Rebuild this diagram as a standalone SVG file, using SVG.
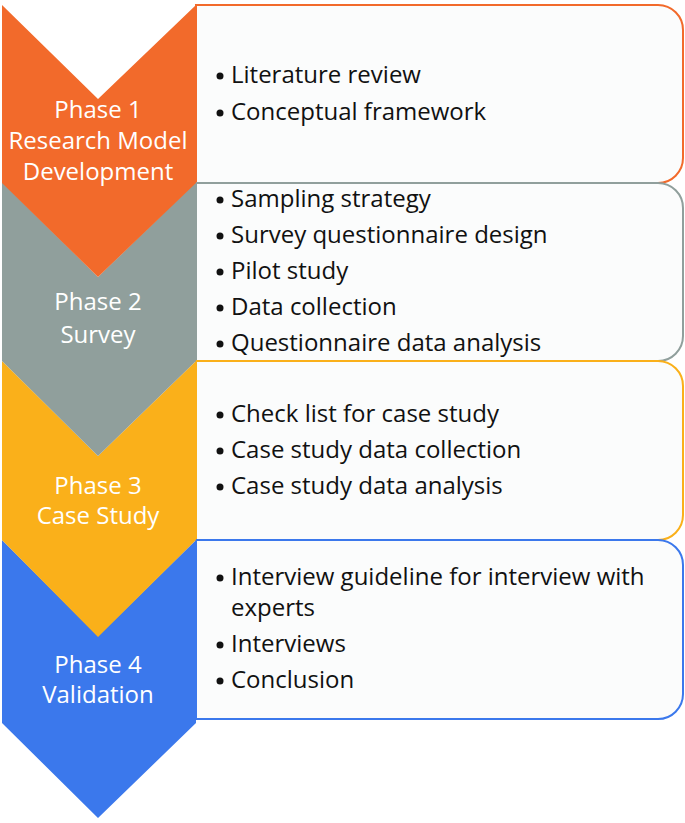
<svg xmlns="http://www.w3.org/2000/svg" width="685" height="823" viewBox="0 0 685 823">
<style>
.box{fill:#FBFCFC;stroke-width:2}
.lab{font-family:"Open Sans","Noto Sans",sans-serif;font-size:24px;fill:#FFFFFF;text-anchor:middle}
.item{font-family:"Open Sans","Noto Sans",sans-serif;font-size:24px;fill:#111111}
.bul{fill:#111111}
</style>
<rect width="685" height="823" fill="#FFFFFF"/>
<g id="box1">
<path class="box" stroke="#F26A2B" d="M196 5 H658 A25 25 0 0 1 683 30 V158 A25 25 0 0 1 658 183 H196 Z"/>
<circle class="bul" cx="220" cy="76" r="3.5"/><text class="item" x="231" y="83">Literature review</text>
<circle class="bul" cx="220" cy="113" r="3.5"/><text class="item" x="231" y="120">Conceptual framework</text>
</g>
<g id="box2">
<path class="box" stroke="#909F9C" d="M196 183 H658 A25 25 0 0 1 683 208 V336 A25 25 0 0 1 658 361 H196 Z"/>
<circle class="bul" cx="220" cy="200" r="3.5"/><text class="item" x="231" y="207">Sampling strategy</text>
<circle class="bul" cx="220" cy="236" r="3.5"/><text class="item" x="231" y="243">Survey questionnaire design</text>
<circle class="bul" cx="220" cy="272" r="3.5"/><text class="item" x="231" y="279">Pilot study</text>
<circle class="bul" cx="220" cy="308" r="3.5"/><text class="item" x="231" y="315">Data collection</text>
<circle class="bul" cx="220" cy="344" r="3.5"/><text class="item" x="231" y="351">Questionnaire data analysis</text>
</g>
<g id="box3">
<path class="box" stroke="#FAB01A" d="M196 361 H658 A25 25 0 0 1 683 386 V515 A25 25 0 0 1 658 540 H196 Z"/>
<circle class="bul" cx="220" cy="415" r="3.5"/><text class="item" x="231" y="422">Check list for case study</text>
<circle class="bul" cx="220" cy="451" r="3.5"/><text class="item" x="231" y="458">Case study data collection</text>
<circle class="bul" cx="220" cy="487" r="3.5"/><text class="item" x="231" y="494">Case study data analysis</text>
</g>
<g id="box4">
<path class="box" stroke="#3B78EC" d="M196 540 H658 A25 25 0 0 1 683 565 V694 A25 25 0 0 1 658 719 H196 Z"/>
<circle class="bul" cx="220" cy="578" r="3.5"/><text class="item" x="231" y="585">Interview guideline for interview with</text>
<text class="item" x="231" y="616">experts</text>
<circle class="bul" cx="220" cy="645" r="3.5"/><text class="item" x="231" y="652">Interviews</text>
<circle class="bul" cx="220" cy="681" r="3.5"/><text class="item" x="231" y="688">Conclusion</text>
</g>
<g id="phase4">
<path fill="#3B78EC" d="M2 540 L98 636 L196 540 V723 L98 818 L2 723 Z"/>
<text class="lab" x="98" y="673">Phase 4</text>
<text class="lab" x="98" y="703">Validation</text>
</g>
<g id="phase3">
<path fill="#FAB01A" d="M2 361 L98 456 L196 361 V540 L98 637 L2 540 Z"/>
<text class="lab" x="98" y="494">Phase 3</text>
<text class="lab" x="98" y="524">Case Study</text>
</g>
<g id="phase2">
<path fill="#909F9C" d="M2 182 L98 277 L196 182 V361 L98 456 L2 361 Z"/>
<text class="lab" x="98" y="310">Phase 2</text>
<text class="lab" x="98" y="343">Survey</text>
</g>
<g id="phase1">
<path fill="#F26A2B" d="M2 5 L98 99 L196 5 V183 L98 277 L2 183 Z"/>
<text class="lab" x="98" y="118">Phase 1</text>
<text class="lab" x="98" y="149">Research Model</text>
<text class="lab" x="98" y="180">Development</text>
</g>
<g id="connectors"/>
</svg>
